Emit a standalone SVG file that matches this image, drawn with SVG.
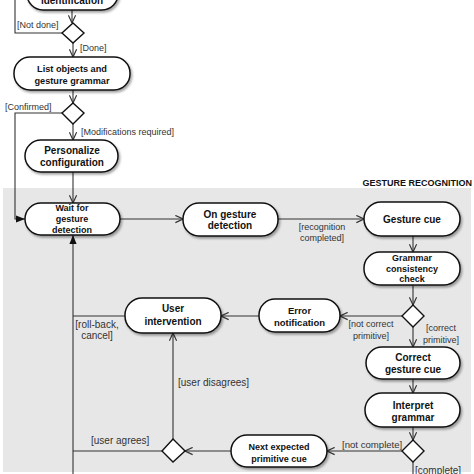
<svg xmlns="http://www.w3.org/2000/svg" width="474" height="474" viewBox="0 0 474 474">
<defs>
<style>
.node rect{fill:#fff;stroke:#111;stroke-width:1.5;filter:url(#sh)}
.dia{fill:#fff;stroke:#111;stroke-width:1.4}
.nt{font-family:"Liberation Sans",Arial,sans-serif;font-weight:bold;fill:#111;text-anchor:middle}
.lbl{font-family:"Liberation Sans",Arial,sans-serif;fill:#333;font-size:9px}
.l10{font-size:10px}
.mid{text-anchor:middle}
.c{fill:none;stroke:#333;stroke-width:1.1}
.a{marker-end:url(#open)}
.f{marker-end:url(#fill)}
</style>
<filter id="sh" x="-20%" y="-20%" width="140%" height="150%">
<feDropShadow dx="1.5" dy="2" stdDeviation="1.2" flood-color="#000" flood-opacity="0.35"/>
</filter>
<marker id="open" viewBox="0 0 10 10" refX="9.5" refY="5" markerWidth="9" markerHeight="9" markerUnits="userSpaceOnUse" orient="auto">
<path d="M1,1 L9.5,5 L1,9" fill="none" stroke="#333" stroke-width="1.3"/>
</marker>
<marker id="fill" viewBox="0 0 10 10" refX="10" refY="5" markerWidth="9" markerHeight="9" markerUnits="userSpaceOnUse" orient="auto">
<path d="M0,1 L10,5 L0,9 z" fill="#111"/>
</marker>
</defs>
<rect x="0" y="0" width="474" height="474" fill="#fff"/>
<rect x="3" y="188" width="468" height="284" fill="#e7e7e7"/>
<text x="472" y="186" class="nt" style="text-anchor:end;font-size:9px">GESTURE RECOGNITION</text>

<g id="connectors">
<path class="c a" d="M72,10 V23"/>
<path class="c" d="M62,33 H15 V0"/>
<path class="c a" d="M73,43 V57"/>
<path class="c a" d="M73,90 V103"/>
<path class="c f" d="M62,113 H15 V219 H25"/>
<path class="c a" d="M73,124 V140"/>
<path class="c a" d="M73,172 V203"/>
<path class="c a" d="M120,219 H183"/>
<path class="c a" d="M278,219 H364"/>
<path class="c a" d="M413,236 V252"/>
<path class="c a" d="M413,285 V305"/>
<path class="c a" d="M402,316 H340"/>
<path class="c a" d="M413,327 V347"/>
<path class="c a" d="M259,316 H221"/>
<path class="c a" d="M413,379 V393"/>
<path class="c a" d="M413,427 V440"/>
<path class="c a" d="M402,451 H327"/>
<path class="c" d="M413,462 V474"/>
<path class="c a" d="M231,451 H185"/>
<path class="c a" d="M173,439 V333"/>
<path class="c" d="M162,451 H73"/>
<path class="c f" d="M73,474 V235"/>
<path class="c" d="M125,316 H73"/>
<text class="lbl" x="17" y="28">[Not done]</text>
<text class="lbl" x="80" y="51">[Done]</text>
<text class="lbl" x="5" y="110">[Confirmed]</text>
<text class="lbl" x="81" y="135">[Modifications required]</text>
<text class="lbl mid" x="322" y="230">[recognition</text>
<text class="lbl mid" x="322" y="241">completed]</text>
<text class="lbl mid" x="371" y="327">[not correct</text>
<text class="lbl mid" x="371" y="339">primitive]</text>
<text class="lbl mid" x="441" y="331">[correct</text>
<text class="lbl mid" x="441" y="343">primitive]</text>
<text class="lbl l10 mid" x="97" y="328">[roll-back,</text>
<text class="lbl l10 mid" x="97" y="339">cancel]</text>
<text class="lbl l10" x="178" y="386">[user disagrees]</text>
<text class="lbl l10" x="91" y="444">[user agrees]</text>
<text class="lbl" x="342" y="448" style="font-size:9.6px">[not complete]</text>
<text class="lbl l10" x="415" y="473.5">[complete]</text>
</g>

<g id="d1"><path class="dia" d="M73,23 L84,33 L73,43 L62,33 Z"/></g>
<g id="d2"><path class="dia" d="M73,103 L84,113 L73,124 L62,113 Z"/></g>
<g id="d3"><path class="dia" d="M413,305 L424,316 L413,327 L402,316 Z"/></g>
<g id="d4"><path class="dia" d="M413,440 L424,451 L413,462 L402,451 Z"/></g>
<g id="d5"><path class="dia" d="M173,439 L185,451 L173,462 L162,451 Z"/></g>

<g id="n1" class="node"><rect x="27" y="-22" width="91" height="32" rx="16"/><text class="nt" x="72" y="4" font-size="10">identification</text></g>
<g id="n2" class="node"><rect x="14" y="57" width="116" height="33" rx="16"/><text class="nt" x="72" y="72" font-size="9.2">List objects and</text><text class="nt" x="72" y="83.5" font-size="9.2">gesture grammar</text></g>
<g id="n3" class="node"><rect x="25" y="140" width="93" height="32" rx="16"/><text class="nt" x="72" y="154" font-size="10">Personalize</text><text class="nt" x="72" y="165.5" font-size="10">configuration</text></g>
<g id="n4" class="node"><rect x="25" y="203" width="95" height="32" rx="16"/><text class="nt" x="72" y="211" font-size="9">Wait for</text><text class="nt" x="72" y="222" font-size="9">gesture</text><text class="nt" x="72" y="233" font-size="9">detection</text></g>
<g id="n5" class="node"><rect x="183" y="203" width="95" height="33" rx="16"/><text class="nt" x="230" y="217.5" font-size="10">On gesture</text><text class="nt" x="230" y="229" font-size="10">detection</text></g>
<g id="n6" class="node"><rect x="364" y="202" width="96" height="34" rx="17"/><text class="nt" x="412" y="222.5" font-size="10">Gesture cue</text></g>
<g id="n7" class="node"><rect x="364" y="252" width="96" height="33" rx="16"/><text class="nt" x="412" y="261" font-size="9">Grammar</text><text class="nt" x="412" y="271.5" font-size="9">consistency</text><text class="nt" x="412" y="282" font-size="9">check</text></g>
<g id="n8" class="node"><rect x="259" y="299" width="81" height="33" rx="16"/><text class="nt" x="299.5" y="313.5" font-size="9.5">Error</text><text class="nt" x="299.5" y="325.5" font-size="9.5">notification</text></g>
<g id="n9" class="node"><rect x="125" y="298" width="96" height="35" rx="17"/><text class="nt" x="173" y="311.5" font-size="10">User</text><text class="nt" x="173" y="324.5" font-size="10">intervention</text></g>
<g id="n10" class="node"><rect x="366" y="347" width="94" height="32" rx="16"/><text class="nt" x="413" y="360.5" font-size="10">Correct</text><text class="nt" x="413" y="372.5" font-size="10">gesture cue</text></g>
<g id="n11" class="node"><rect x="365" y="393" width="95" height="34" rx="17"/><text class="nt" x="413" y="408.5" font-size="10">Interpret</text><text class="nt" x="413" y="420.5" font-size="10">grammar</text></g>
<g id="n12" class="node"><rect x="231" y="435" width="96" height="32" rx="16"/><text class="nt" x="279" y="450" font-size="9">Next expected</text><text class="nt" x="279" y="461.5" font-size="9">primitive cue</text></g>
</svg>
